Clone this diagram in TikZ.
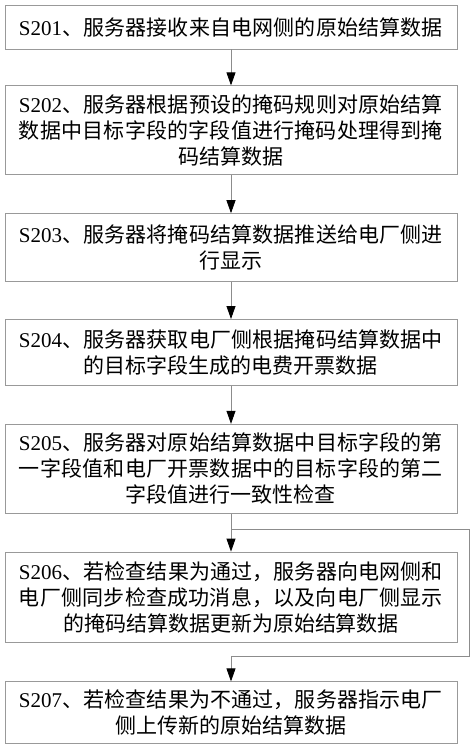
\documentclass[tikz,border=0pt]{standalone}
\usepackage{fontspec}
\setmainfont{Liberation Serif}
\newfontfamily\cjk{Noto Sans CJK SC}
\usetikzlibrary{positioning,arrows.meta,calc}
\XeTeXlinebreaklocale "zh"
\XeTeXlinebreakskip=0pt plus 3pt
\hbadness=10000
\newcommand\centerlast{\leftskip=0pt plus 1fil\rightskip=0pt plus -1fil\parfillskip=0pt plus 2fil}

\begin{document}
\begin{tikzpicture}[
  font=\fontsize{21}{26}\selectfont,
  stepbox/.style={draw=black!40, line width=0.8pt, text width=424pt, inner xsep=14pt, inner ysep=0pt, execute at begin node=\centerlast},
  oneline/.style={execute at begin node={\parfillskip=0pt}},
  arr/.style={draw=black!45, line width=0.8pt, -{Triangle[length=13pt,width=9pt,color=black]}}
]
\useasboundingbox (0,0) rectangle (474pt,-744pt);
\node[stepbox, oneline, minimum height=44pt] (s201) at (231pt,-27pt)
  {S201\cjk 、服务器接收来自电网侧的原始结算数据};
\node[stepbox, minimum height=89pt, below=36pt of s201] (s202)
  {S202\cjk 、服务器根据预设的掩码规则对原始结算\linebreak 数据中目标字段的字段值进行掩码处理得到掩\linebreak 码结算数据};
\node[stepbox, minimum height=68pt, below=38pt of s202] (s203)
  {S203\cjk 、服务器将掩码结算数据推送给电厂侧进\linebreak 行显示};
\node[stepbox, minimum height=66pt, below=37pt of s203] (s204)
  {S204\cjk 、服务器获取电厂侧根据掩码结算数据中\linebreak 的目标字段生成的电费开票数据};
\node[stepbox, minimum height=89pt, below=38pt of s204] (s205)
  {S205\cjk 、服务器对原始结算数据中目标字段的第\linebreak 一字段值和电厂开票数据中的目标字段的第二\linebreak 字段值进行一致性检查};
\node[stepbox, minimum height=90pt, below=38pt of s205] (s206)
  {S206\cjk 、若检查结果为通过，服务器向电网侧和\linebreak 电厂侧同步检查成功消息，以及向电厂侧显示\linebreak 的掩码结算数据更新为原始结算数据};
\node[stepbox, minimum height=62pt, below=39pt of s206] (s207)
  {S207\cjk 、若检查结果为不通过，服务器指示电厂\linebreak 侧上传新的原始结算数据};

\draw[arr] (s201) -- (s202);
\draw[arr] (s202) -- (s203);
\draw[arr] (s203) -- (s204);
\draw[arr] (s204) -- (s205);
\draw[arr] (s205) -- (s206);
% branch round the right side to S207
\coordinate (fork) at ($(s205.south)+(0,-16pt)$);
\coordinate (join) at ($(s206.south)+(0,-14pt)$);
\coordinate (side) at ($(s206.east |- fork)+(12pt,0)$);
\draw[arr] (fork) -- (side) |- (join) -- (s207);
\end{tikzpicture}
\end{document}
